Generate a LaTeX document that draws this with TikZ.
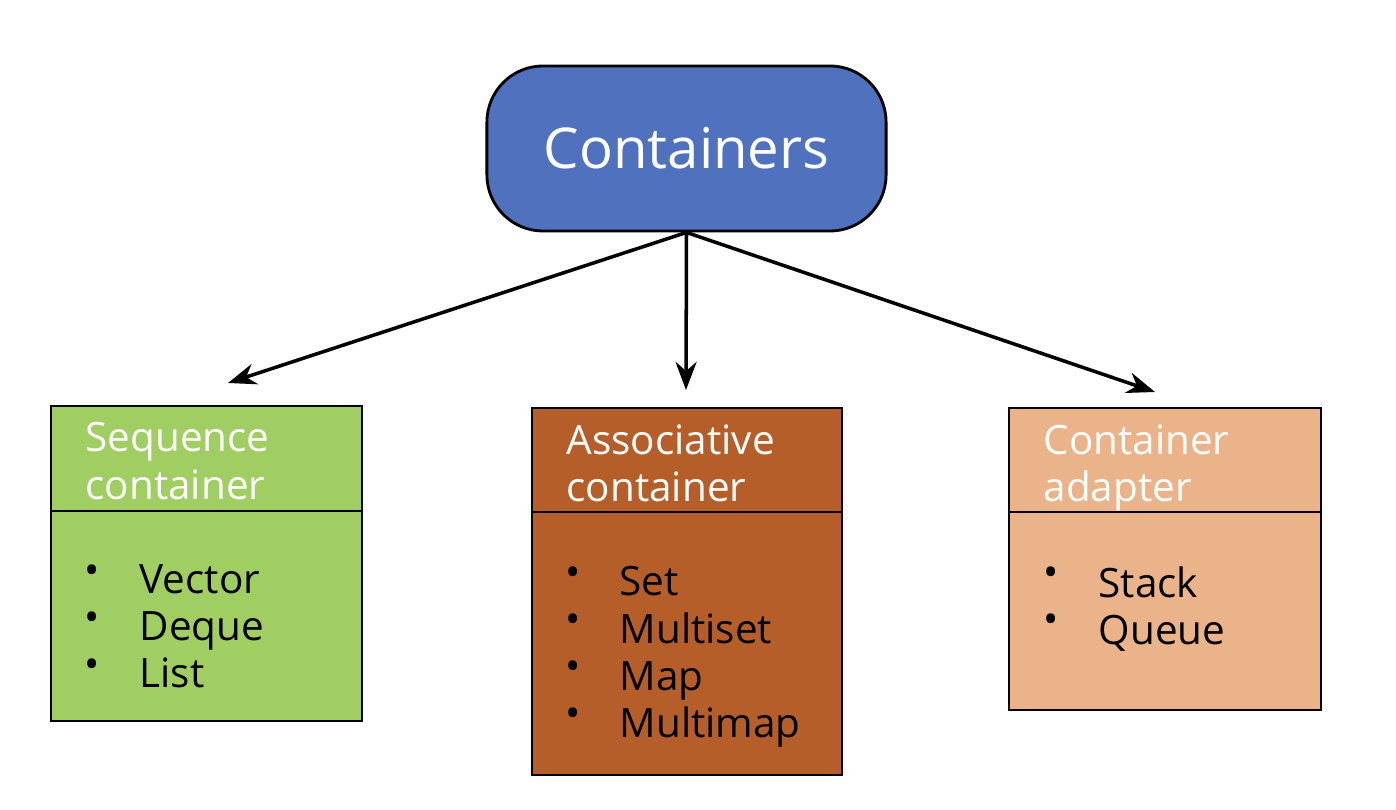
\documentclass[tikz,border=0pt]{standalone}
\usepackage{fontspec}
\setmainfont{Open Sans}
\usetikzlibrary{arrows.meta}
\definecolor{cblue}{HTML}{4F71BE}
\definecolor{cgreen}{HTML}{A0CE62}
\definecolor{cbrown}{HTML}{B65E29}
\definecolor{cpeach}{HTML}{EAB38A}
\begin{document}
\begin{tikzpicture}[x=0.01cm,y=-0.01cm,
  box/.style={draw=black,line width=0.8pt},
  hdr/.style={anchor=north west,align=left,text=white,font=\fontsize{11.5}{13.4}\selectfont,inner sep=0pt},
  itm/.style={anchor=north west,align=left,font=\fontsize{11.5}{13.4}\selectfont,inner sep=0pt},
  arr/.style={-{Stealth[length=8pt,width=6pt]},line width=1pt}]
\useasboundingbox (0,0) rectangle (1396,810);
\node[box,fill=cblue,rounded corners=16pt,minimum width=3.99cm,minimum height=1.65cm,text=white,font=\fontsize{16}{18}\selectfont] (top) at (686.5,148.5) {Containers};
% boxes
\draw[box,fill=cgreen] (51,406) rectangle (362,721);
\draw[box] (51,511) -- (362,511);
\draw[box,fill=cbrown] (532,408) rectangle (842,775);
\draw[box] (532,512) -- (842,512);
\draw[box,fill=cpeach] (1009,408) rectangle (1321,710);
\draw[box] (1009,512) -- (1321,512);
\coordinate (s) at (228,383);
\coordinate (a) at (686,390);
\coordinate (c) at (1155,392);
\draw[arr] (top.south) -- (s);
\draw[arr] (top.south) -- (a);
\draw[arr] (top.south) -- (c);
\node[hdr] (h1) at (85,422) {Sequence\\container};
\node[hdr] (h2) at (566,424) {Associative\\container};
\node[hdr] (h3) at (1043,424) {Container\\adapter};
\node[itm] (b1) at (84,564) {•\\•\\•};
\node[itm] (i1) at (139,564) {Vector\\Deque\\List};
\node[itm] (b2) at (565,566) {•\\•\\•\\•};
\node[itm] (i2) at (619,566) {Set\\Multiset\\Map\\Multimap};
\node[itm] (b3) at (1043,566) {•\\•};
\node[itm] (i3) at (1098,566) {Stack\\Queue};
\end{tikzpicture}
\end{document}
